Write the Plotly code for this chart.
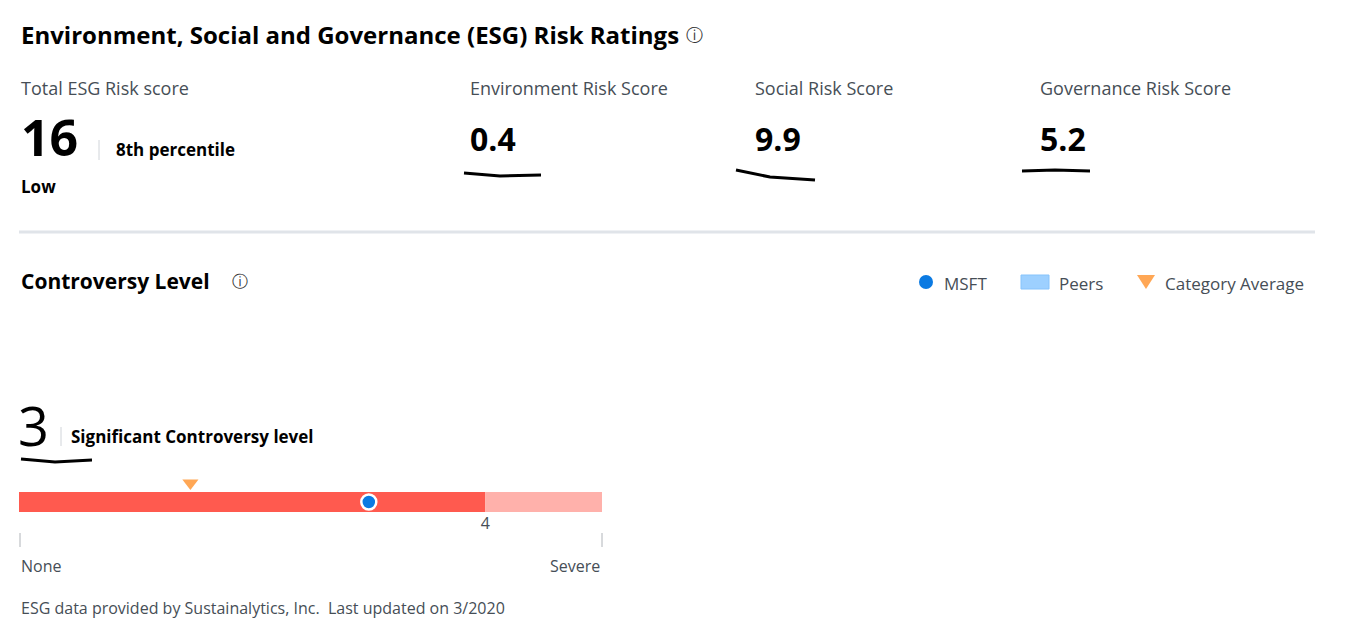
import plotly.graph_objects as go

W, H = 1358, 620
OFF = 8  # page body margin
level_labels = ["None", "Severe"]
peer_range = [0, 4]
scale_max = 5
msft_level = 3
category_avg = 1.47
scores = {"Environment Risk Score": "0.4", "Social Risk Score": "9.9", "Governance Risk Score": "5.2"}
score_x = [468, 753, 1038]

def py(p):
    return 1 - (p - OFF) / H
def px(p):
    return (p - OFF) / W

fig = go.Figure()
BAR_Y = 502
fig.add_trace(go.Bar(x=[peer_range[1] - peer_range[0]], base=[peer_range[0]], y=[BAR_Y], orientation="h",
                     width=20, marker=dict(color="#ff5a4f", line=dict(width=0)), showlegend=False, hoverinfo="skip"))
fig.add_trace(go.Bar(x=[scale_max - peer_range[1]], base=[peer_range[1]], y=[BAR_Y], orientation="h",
                     width=20, marker=dict(color="#ffb1ab", line=dict(width=0)), showlegend=False, hoverinfo="skip"))
fig.add_trace(go.Scatter(x=[msft_level], y=[BAR_Y], mode="markers",
                         marker=dict(size=15, color="#0b7ae2", line=dict(color="white", width=2.5)),
                         showlegend=False, hoverinfo="skip"))
fig.add_trace(go.Scatter(x=[category_avg], y=[483], mode="markers",
                         marker=dict(size=14, symbol="triangle-down", color="#ffa755", line=dict(width=0)),
                         showlegend=False, hoverinfo="skip"))
fig.add_trace(go.Scatter(x=[peer_range[1]], y=[525], mode="text", text=[str(peer_range[1])],
                         textfont=dict(size=16, color="#464e56", family="Open Sans"),
                         showlegend=False, hoverinfo="skip"))

fig.update_layout(
    width=W, height=H, margin=dict(l=0, r=0, t=0, b=0),
    paper_bgcolor="white", plot_bgcolor="rgba(0,0,0,0)", barmode="overlay",
    xaxis=dict(domain=[px(19), px(602)], range=[0, scale_max], visible=False, fixedrange=True),
    yaxis=dict(domain=[0, 1], range=[H + OFF, OFF], visible=False, fixedrange=True),
    font=dict(family="Open Sans", color="#000"),
)

ann = []
def t(x, y, s, size, color="#000", bold=False, anchor="left", family="Open Sans"):
    ann.append(dict(x=px(x), y=py(y), xref="paper", yref="paper", text=("<b>%s</b>" % s) if bold else s,
                    showarrow=False, xanchor=anchor, yanchor="middle",
                    font=dict(size=size, color=color, family=family)))

t(19, 34, "Environment, Social and Governance (ESG) Risk Ratings", 24, bold=True)
t(684, 34, "ⓘ", 17, color="#333")
t(19, 88, "Total ESG Risk score", 18, color="#464e56")
t(19, 137, "<b>16</b>", 50)
t(114, 150, "8th percentile", 17, bold=True)
t(19, 186, "Low", 17, bold=True)
for (name, val), x in zip(scores.items(), score_x):
    t(x, 88, name, 18, color="#464e56")
    t(x, 138, val, 32, bold=True)
t(19, 281, "Controversy Level", 21, bold=True)
t(230, 281, "ⓘ", 16, color="#333")
t(942, 283, "MSFT", 17, color="#464e56")
t(1057, 283, "Peers", 17, color="#464e56")
t(1163, 283, "Category Average", 17, color="#464e56")
t(16, 425, str(msft_level), 54)
t(69, 436, "Significant Controversy level", 17, bold=True)
t(19, 566, level_labels[0], 16, color="#464e56")
t(602, 566, level_labels[1], 16, color="#464e56", anchor="right")
t(19, 608, "ESG data provided by Sustainalytics, Inc.  Last updated on 3/2020", 16, color="#464e56")
fig.update_layout(annotations=ann)

shapes = []
def line(x0, y0, x1, y1, color, w):
    shapes.append(dict(type="line", xref="paper", yref="paper", x0=px(x0), y0=py(y0), x1=px(x1), y1=py(y1),
                       line=dict(color=color, width=w)))
def path(pts, w=3):
    d = "M " + " L ".join("%f,%f" % (px(a), py(b)) for a, b in pts)
    shapes.append(dict(type="path", xref="paper", yref="paper", path=d, line=dict(color="#000", width=w)))
line(19, 232, 1315, 232, "#e0e4e9", 3)
line(99, 140, 99, 160, "#d0d4d9", 1)
line(61, 427, 61, 446, "#d0d4d9", 1)
line(20, 533, 20, 547, "#b0b4b9", 1)
line(602, 533, 602, 547, "#b0b4b9", 1)
path([(464, 173), (500, 176), (541, 175)])
path([(736, 170), (770, 177), (815, 180)])
path([(1022, 171), (1055, 170), (1090, 171)])
path([(21, 459), (55, 462), (92, 460)])
shapes.append(dict(type="circle", xref="paper", yref="paper", x0=px(919), x1=px(933), y0=py(275), y1=py(289),
                   fillcolor="#0b7ae2", line=dict(width=0)))
shapes.append(dict(type="rect", xref="paper", yref="paper", x0=px(1021), x1=px(1049), y0=py(275), y1=py(289),
                   fillcolor="#9dd0ff", line=dict(color="#86c3fb", width=1)))
shapes.append(dict(type="path", xref="paper", yref="paper",
                   path="M %f,%f L %f,%f L %f,%f Z" % (px(1137), py(275), px(1155), py(275), px(1146), py(289)),
                   fillcolor="#ffa755", line=dict(width=0)))
fig.update_layout(shapes=shapes)

fig.write_html("out.html")
